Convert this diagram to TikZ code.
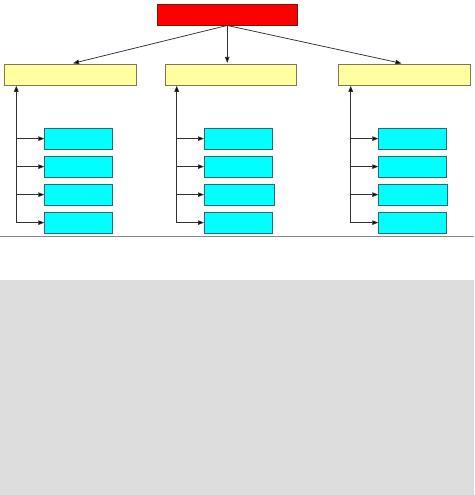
\documentclass[tikz,border=0pt]{standalone}
\usetikzlibrary{arrows.meta}

\tikzset{every picture/.style={line width=0.75pt}}
\tikzset{
	headbox/.style={draw={rgb, 255:red, 120; green, 20; blue, 20 }, fill={rgb, 255:red, 255; green, 0; blue, 0 }, minimum width=139.7, minimum height=20.7, inner sep=0pt, anchor=north west},
	groupbox/.style={draw={rgb, 255:red, 128; green, 120; blue, 80 }, fill={rgb, 255:red, 255; green, 255; blue, 160 }, minimum width=131.5, minimum height=21, inner sep=0pt, anchor=north west},
	itembox/.style={draw={rgb, 255:red, 45; green, 105; blue, 110 }, fill={rgb, 255:red, 0; green, 255; blue, 255 }, minimum width=68, minimum height=20.5, inner sep=0pt, anchor=north west},
	link/.style={draw={rgb, 255:red, 50; green, 50; blue, 50 }, -{Triangle[length=6,width=4.5,fill=black]}},
}

\begin{document}
\begin{tikzpicture}[x=1pt,y=1pt,yscale=-1,xscale=1]
	\useasboundingbox (0,0) rectangle (474,495);
	
	%Shape: Rectangle [gray panel]
	\fill [color={rgb, 255:red, 221; green, 221; blue, 221 }] (0,279.5) rectangle (474,495);
	%Straight Lines [rule]
	\draw [color={rgb, 255:red, 136; green, 136; blue, 136 }, line width=1.2] (0,236.7) -- (474,236.7);
	
	% Top node
	\node [headbox] (head) at (157,4) {};
	
	% Group nodes
	\node [groupbox] (grpA) at (4,64) {};
	\node [groupbox] (grpB) at (164.7,64) {};
	\node [groupbox] (grpC) at (338.3,64) {};
	
	% Item nodes, group A
	\node [itembox] (itmA1) at (44.3,128) {};
	\node [itembox] (itmA2) at (44.3,156) {};
	\node [itembox] (itmA3) at (44.3,184) {};
	\node [itembox] (itmA4) at (44.3,212) {};
	% Item nodes, group B
	\node [itembox] (itmB1) at (204,128) {};
	\node [itembox] (itmB2) at (204,156) {};
	\node [itembox, minimum width=69.5] (itmB3) at (204,184) {};
	\node [itembox] (itmB4) at (204,212) {};
	% Item nodes, group C
	\node [itembox, minimum width=67.4] (itmC1) at (378.3,128) {};
	\node [itembox, minimum width=67.4] (itmC2) at (378.3,156) {};
	\node [itembox, minimum width=68.5] (itmC3) at (378.3,184) {};
	\node [itembox, minimum width=67.4] (itmC4) at (378.3,212) {};
	
	% Bus corners
	\path (itmA4.west) ++(-28,0) coordinate (busA);
	\path (itmB4.west) ++(-27.3,0) coordinate (busB);
	\path (itmC4.west) ++(-27.6,0) coordinate (busC);
	
	%Straight Lines [head to groups]
	\draw [link, shorten >=3] (head.south) -- (grpA.north);
	\draw [link, shorten >=1] (head.south) -- (head.south |- grpB.north);
	\draw [link, shorten >=3] (head.south) -- (grpC.north);
	
	%Straight Lines [group A]
	\draw [link] (busA) -- (busA |- grpA.south);
	\draw [link] (busA |- itmA1.west) -- (itmA1.west);
	\draw [link] (busA |- itmA2.west) -- (itmA2.west);
	\draw [link] (busA |- itmA3.west) -- (itmA3.west);
	\draw [link] (busA) -- (itmA4.west);
	%Straight Lines [group B]
	\draw [link] (busB) -- (busB |- grpB.south);
	\draw [link] (busB |- itmB1.west) -- (itmB1.west);
	\draw [link] (busB |- itmB2.west) -- (itmB2.west);
	\draw [link] (busB |- itmB3.west) -- (itmB3.west);
	\draw [link] (busB) -- (itmB4.west);
	%Straight Lines [group C]
	\draw [link] (busC) -- (busC |- grpC.south);
	\draw [link] (busC |- itmC1.west) -- (itmC1.west);
	\draw [link] (busC |- itmC2.west) -- (itmC2.west);
	\draw [link] (busC |- itmC3.west) -- (itmC3.west);
	\draw [link] (busC) -- (itmC4.west);
	
\end{tikzpicture}
\end{document}
